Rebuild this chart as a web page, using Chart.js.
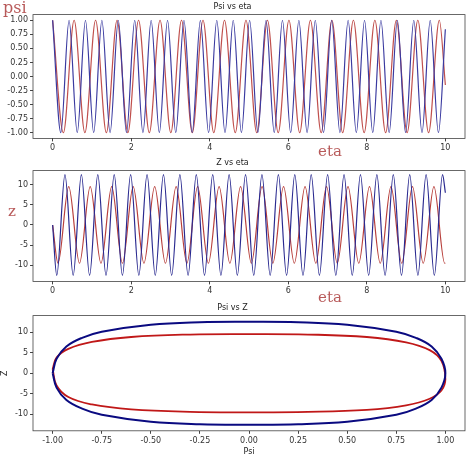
<!DOCTYPE html>
<html><head><meta charset="utf-8">
<script src="https://cdn.jsdelivr.net/npm/chart.js@4"></script>
<style>
body{margin:0;background:#fff;width:474px;height:465px;position:relative;overflow:hidden;font-family:"DejaVu Sans";}
.w{position:absolute;left:0;width:474px;}
.lbl{position:absolute;font-family:"DejaVu Serif","Liberation Serif";color:#b85a5a;font-size:15px;}
</style></head><body>
<div class="w" style="top:0;height:160px"><canvas id="c1" width="474" height="160"></canvas></div>
<div class="w" style="top:156px;height:148px"><canvas id="c2" width="474" height="148"></canvas></div>
<div class="w" style="top:301px;height:164px"><canvas id="c3" width="474" height="164"></canvas></div>
<div class="lbl" style="left:3px;top:-2px;font-size:16px">psi</div>
<div class="lbl" style="left:318px;top:142px">eta</div>
<div class="lbl" style="left:8px;top:202px">z</div>
<div class="lbl" style="left:318px;top:288px">eta</div>
<script>
// Psi vs eta: extremum times and values
const psiBlueT=[0,0.209,0.418,0.627,0.836,1.045,1.254,1.463,1.672,1.881,2.09,2.299,2.508,2.717,2.926,3.135,3.344,3.553,3.762,3.971,4.18,4.389,4.598,4.807,5.016,5.225,5.434,5.643,5.852,6.061,6.27,6.479,6.688,6.897,7.106,7.315,7.524,7.733,7.942,8.151,8.36,8.569,8.778,8.987,9.196,9.405,9.614,9.823,10];
const psiBlueV=[1,-1,1,-1,1,-1,1,-1,1,-1,1,-1,1,-1,1,-1,1,-1,1,-1,1,-1,1,-1,1,-1,1,-1,1,-1,1,-1,1,-1,1,-1,1,-1,1,-1,1,-1,1,-1,1,-1,1,-1,0.84];
const psiRedT=[0,0.274,0.547,0.821,1.094,1.368,1.641,1.915,2.188,2.462,2.735,3.009,3.282,3.556,3.829,4.103,4.376,4.65,4.923,5.197,5.47,5.744,6.017,6.291,6.564,6.838,7.111,7.385,7.658,7.932,8.205,8.479,8.752,9.026,9.299,9.573,9.846,10];
const psiRedV=[1,-1,1,-1,1,-1,1,-1,1,-1,1,-1,1,-1,1,-1,1,-1,1,-1,1,-1,1,-1,1,-1,1,-1,1,-1,1,-1,1,-1,1,-1,1,-0.15];
// Z vs eta
const zBlueT=[0,0.105,0.314,0.523,0.732,0.941,1.15,1.359,1.568,1.777,1.986,2.195,2.404,2.613,2.822,3.031,3.24,3.449,3.658,3.867,4.076,4.285,4.494,4.703,4.912,5.121,5.33,5.539,5.748,5.957,6.166,6.375,6.584,6.793,7.002,7.211,7.42,7.629,7.838,8.047,8.256,8.465,8.674,8.883,9.092,9.301,9.51,9.719,9.928,10];
const zBlueV=[0,-12.5,12.5,-12.5,12.5,-12.5,12.5,-12.5,12.5,-12.5,12.5,-12.5,12.5,-12.5,12.5,-12.5,12.5,-12.5,12.5,-12.5,12.5,-12.5,12.5,-12.5,12.5,-12.5,12.5,-12.5,12.5,-12.5,12.5,-12.5,12.5,-12.5,12.5,-12.5,12.5,-12.5,12.5,-12.5,12.5,-12.5,12.5,-12.5,12.5,-12.5,12.5,-12.5,12.5,8];
const zRedT=[0,0.137,0.41,0.684,0.957,1.231,1.504,1.778,2.051,2.325,2.598,2.872,3.145,3.419,3.692,3.966,4.239,4.513,4.786,5.06,5.333,5.607,5.88,6.154,6.427,6.701,6.974,7.248,7.521,7.795,8.068,8.342,8.615,8.889,9.162,9.436,9.709,9.983,10];
const zRedV=[0,-9.5,9.5,-9.5,9.5,-9.5,9.5,-9.5,9.5,-9.5,9.5,-9.5,9.5,-9.5,9.5,-9.5,9.5,-9.5,9.5,-9.5,9.5,-9.5,9.5,-9.5,9.5,-9.5,9.5,-9.5,9.5,-9.5,9.5,-9.5,9.5,-9.5,9.5,-9.5,9.5,-9.5,-9.5];
// Psi vs Z loops
const loopBluePsi=[-1,-0.98,-0.93,-0.85,-0.75,-0.5,-0.25,0,0.25,0.5,0.75,0.85,0.93,0.98,1,0.98,0.93,0.85,0.75,0.5,0.25,0,-0.25,-0.5,-0.75,-0.85,-0.93,-0.98,-1];
const loopBlueZ=[0,3.5,6.5,8.6,10.1,11.8,12.4,12.5,12.4,11.8,10.1,8.6,6.5,3.5,0,-3.5,-6.5,-8.6,-10.1,-11.8,-12.4,-12.5,-12.4,-11.8,-10.1,-8.6,-6.5,-3.5,0];
const loopRedPsi=[-1,-0.98,-0.92,-0.8,-0.6,-0.3,0,0.3,0.6,0.8,0.92,0.98,1,0.98,0.92,0.8,0.6,0.3,0,-0.3,-0.6,-0.8,-0.92,-0.98,-1];
const loopRedZ=[1,3.8,5.9,7.6,8.8,9.4,9.5,9.4,8.8,7.5,5.6,3.0,-1.5,-4.2,-6.2,-7.8,-8.9,-9.4,-9.5,-9.4,-8.8,-7.6,-5.8,-3.0,1];

const pts=(a,b)=>a.map((x,i)=>({x:x,y:b[i]}));
const F={family:"DejaVu Sans",size:8};
const box={id:'box',afterDraw(c){const a=c.chartArea,x=c.ctx;x.save();x.strokeStyle='#444';x.lineWidth=0.8;x.strokeRect(a.left,a.top,a.right-a.left,a.bottom-a.top);x.restore();}};
function ax(min,max,step,extra){return Object.assign({type:'linear',min:min,max:max,border:{display:false},grid:{drawOnChartArea:false,drawTicks:true,tickLength:3,color:'#444'},ticks:{font:F,color:'#333',stepSize:step,padding:2}},extra||{});}
function mk(id,ds,xs,ys,title,padB){
  new Chart(document.getElementById(id),{type:'scatter',data:{datasets:ds},
  options:{responsive:false,animation:false,events:[],
    layout:{padding:{left:0,right:9,top:0,bottom:padB}},
    plugins:{legend:{display:false},tooltip:{enabled:false},title:{display:true,text:title,font:{family:"DejaVu Sans",size:8,weight:'normal'},color:'#222',padding:{top:2,bottom:3}}},
    scales:{x:xs,y:ys}},plugins:[box]});
}
function line(p,col,w,mono){return {data:p,showLine:true,borderColor:col,borderWidth:w,pointRadius:0,fill:false,cubicInterpolationMode:mono?'monotone':'default',tension:mono?0.4:0.4};}
const yW=s=>{s.width=33;};
mk('c1',[line(pts(psiBlueT,psiBlueV),'#3a3aa0',1.2,true),line(pts(psiRedT,psiRedV),'#c0504d',1.2,true)],
  ax(-0.5,10.5,2,{afterBuildTicks:s=>{s.ticks=[0,2,4,6,8,10].map(v=>({value:v}));}}),
  ax(-1.1,1.1,0.25,{afterFit:yW,afterBuildTicks:s=>{s.ticks=[-1,-0.75,-0.5,-0.25,0,0.25,0.5,0.75,1].map(v=>({value:v}));},ticks:{font:F,color:'#333',padding:2,callback:v=>v.toFixed(2)}}),'Psi vs eta',5);
mk('c2',[line(pts(zBlueT,zBlueV),'#2a2a90',1.2,true),line(pts(zRedT,zRedV),'#b8403c',1.2,true)],
  ax(-0.5,10.5,2,{afterBuildTicks:s=>{s.ticks=[0,2,4,6,8,10].map(v=>({value:v}));}}),
  ax(-14,13.5,5,{afterFit:yW,afterBuildTicks:s=>{s.ticks=[-10,-5,0,5,10].map(v=>({value:v}));}}),'Z vs eta',6);
mk('c3',[line(pts(loopBluePsi,loopBlueZ),'#0a0a80',2,false),line(pts(loopRedPsi,loopRedZ),'#c01818',1.8,false)],
  ax(-1.1,1.1,0.25,{afterBuildTicks:s=>{s.ticks=[-1,-0.75,-0.5,-0.25,0,0.25,0.5,0.75,1].map(v=>({value:v}));},ticks:{font:F,color:'#333',padding:2,callback:v=>v.toFixed(2)},title:{display:true,text:'Psi',font:F,color:'#222',padding:0}}),
  ax(-14,14,5,{afterFit:yW,afterBuildTicks:s=>{s.ticks=[-10,-5,0,5,10].map(v=>({value:v}));},title:{display:true,text:'Z',font:F,color:'#222',padding:0}}),'Psi vs Z',8);
</script></body></html>
